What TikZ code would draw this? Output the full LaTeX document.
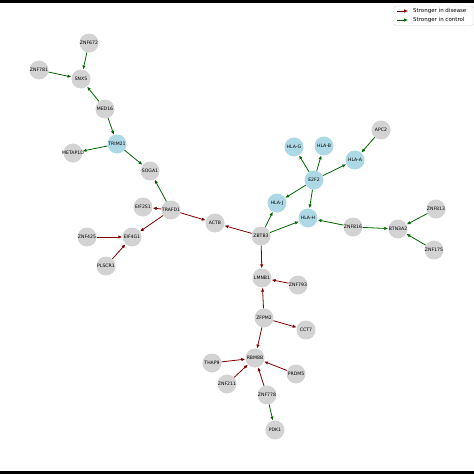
\documentclass[tikz,border=0pt]{standalone}
\usepackage{fontspec}
\setmainfont{DejaVu Sans}
\usetikzlibrary{arrows.meta}
\definecolor{diseasered}{RGB}{128,0,0}
\definecolor{controlgreen}{RGB}{0,100,0}
\definecolor{hlablue}{RGB}{173,216,230}
\definecolor{genegray}{RGB}{211,211,211}

\begin{document}
\begin{tikzpicture}[x=1pt, y=-1pt,
    gene/.style={circle, fill=genegray, minimum size=19pt, inner sep=-4pt, font=\fontsize{4.6}{5}\selectfont},
    hlagene/.style={gene, fill=hlablue},
    disease/.style={-{Latex[length=4pt, width=3.4pt]}, line width=0.8pt, diseasered},
    control/.style={-{Latex[length=4pt, width=3.4pt]}, line width=0.8pt, controlgreen},
    legendtext/.style={font=\fontsize{5.5}{6}\selectfont, anchor=west, inner sep=0pt}
]

\useasboundingbox (0,0) rectangle (474,474);

% Frame bars
\fill[black] (0,0) rectangle (474,3);
\fill[black] (0,470.5) rectangle (474,474);

% Upper left branch
\node[gene] (znf672) at (89,43) {ZNF672};
\node[gene] (znf781) at (39,70) {ZNF781};
\node[gene] (snx5) at (81,79) {SNX5};
\node[gene] (med16) at (105,109) {MED16};
\node[hlagene] (trim21) at (117,144) {TRIM21};
\node[gene] (metap1d) at (73,153) {METAP1D};
\node[gene] (soga1) at (150,171) {SOGA1};

% Left branch
\node[gene] (eif2s1) at (143,207) {EIF2S1};
\node[gene] (trafd1) at (171,210) {TRAFD1};
\node[gene] (actb) at (215,223) {ACTB};
\node[gene] (znf425) at (87,237) {ZNF425};
\node[gene] (eif4g1) at (132,237) {EIF4G1};
\node[gene] (plscr1) at (106,266) {PLSCR1};

% HLA cluster
\node[gene] (apc2) at (381,130) {APC2};
\node[hlagene] (hlag) at (294,147) {HLA-G};
\node[hlagene] (hlab) at (324,146) {HLA-B};
\node[hlagene] (hlaa) at (355,160) {HLA-A};
\node[hlagene] (e2f2) at (314,180) {E2F2};
\node[hlagene] (hlaj) at (277,203) {HLA-J};
\node[hlagene] (hlah) at (308,218) {HLA-H};
\node[gene] (znf816) at (353,227) {ZNF816};
\node[gene] (btn3a2) at (398,229) {BTN3A2};
\node[gene] (znf813) at (436,209) {ZNF813};
\node[gene] (znf175) at (434,250) {ZNF175};
\node[gene] (zbtb3) at (261,236) {ZBTB3};

% Lower branch
\node[gene] (lmnb1) at (262,278) {LMNB1};
\node[gene] (znf793) at (298,285) {ZNF793};
\node[gene] (zfpm2) at (264,318) {ZFPM2};
\node[gene] (cct7) at (306,330) {CCT7};
\node[gene] (rbm8b) at (255,358) {RBM8B};
\node[gene] (thap9) at (212,363) {THAP9};
\node[gene] (znf211) at (227,384) {ZNF211};
\node[gene] (prdm5) at (296,374) {PRDM5};
\node[gene] (znf778) at (267,395) {ZNF778};
\node[gene] (pdk1) at (275,430) {PDK1};

% Stronger in control
\draw[control] (znf672) -- (snx5);
\draw[control] (znf781) -- (snx5);
\draw[control] (med16) -- (snx5);
\draw[control] (med16) -- (trim21);
\draw[control] (trim21) -- (metap1d);
\draw[control] (trim21) -- (soga1);
\draw[control] (trafd1) -- (soga1);
\draw[control] (e2f2) -- (hlag);
\draw[control] (e2f2) -- (hlab);
\draw[control] (e2f2) -- (hlaa);
\draw[control] (apc2) -- (hlaa);
\draw[control] (e2f2) -- (hlaj);
\draw[control] (e2f2) -- (hlah);
\draw[control] (zbtb3) -- (hlaj);
\draw[control] (zbtb3) -- (hlah);
\draw[control] (znf816) -- (hlah);
\draw[control] (znf816) -- (btn3a2);
\draw[control] (znf813) -- (btn3a2);
\draw[control] (znf175) -- (btn3a2);
\draw[control] (znf778) -- (pdk1);

% Stronger in disease
\draw[disease] (trafd1) -- (eif2s1);
\draw[disease] (trafd1) -- (actb);
\draw[disease] (trafd1) -- (eif4g1);
\draw[disease] (znf425) -- (eif4g1);
\draw[disease] (plscr1) -- (eif4g1);
\draw[disease] (zbtb3) -- (actb);
\draw[disease] (zbtb3) -- (lmnb1);
\draw[disease] (znf793) -- (lmnb1);
\draw[disease] (zfpm2) -- (lmnb1);
\draw[disease] (zfpm2) -- (cct7);
\draw[disease] (zfpm2) -- (rbm8b);
\draw[disease] (thap9) -- (rbm8b);
\draw[disease] (znf211) -- (rbm8b);
\draw[disease] (prdm5) -- (rbm8b);
\draw[disease] (znf778) -- (rbm8b);

% Legend
\draw[gray!35, fill=white, rounded corners=1.5pt] (394,6) rectangle (473,25.5);
\coordinate (dstart) at (397,11);
\coordinate (dend) at (408,11);
\coordinate (cstart) at (397,20);
\coordinate (cend) at (408,20);
\draw[disease, line width=0.6pt] (dstart) -- (dend);
\draw[control, line width=0.6pt] (cstart) -- (cend);
\node[legendtext] (dlabel) at (413,11) {Stronger in disease};
\node[legendtext] (clabel) at (413,20) {Stronger in control};

\end{tikzpicture}
\end{document}
